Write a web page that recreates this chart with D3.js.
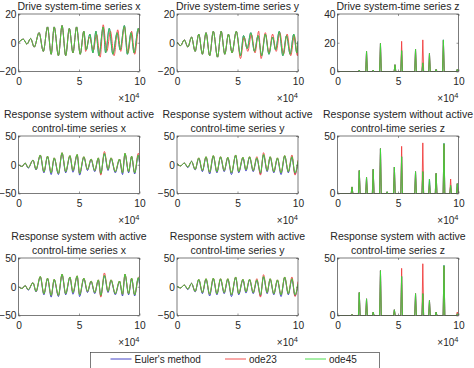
<!DOCTYPE html>
<html>
<head>
<meta charset="utf-8">
<script src="https://cdn.jsdelivr.net/npm/d3@7"></script>
<style>
  body { margin: 0; background: #fff; }
  text { font-family: "Liberation Sans", Arial, sans-serif; fill: #262626; }
</style>
</head>
<body>
<div id="chart"></div>
<script>
// time axis in units of 1e4 (extrema only)
const xTicks = [0, 5, 10];
const seriesNames = ["Euler's method", "ode23", "ode45"];

// drive x
const dxT = [0,0.4,0.7,1.0,1.3,1.7,2.05,2.4,2.7,2.95,3.3,3.6,3.9,4.2,4.5,4.8,5.1,5.4,5.6,5.9,6.15,6.4,6.65,7.0,7.2,7.5,7.8,8.15,8.4,8.75,9.0,9.3,9.55,9.9,10];
const dxG = [0,2.5,-1,3,-3,7,-6,11,-8,11,-9,12,-9,10,-7,11,-8,8,-5,6,-7,8,-9,11,-7,10,-8,7,-5,12,-8,7,-7,10,6];
const dxRTailT = [5.55,5.85,6.2,6.45,6.75,7.0,7.3,7.6,7.9,8.2,8.45,8.75,9.05,9.35,9.6,9.95,10];
const dxRTailV = [-6,4,-5,6,-10,12.5,-6,8,-9,9,-6,11,-7,8,-8,10,7];

// drive y
const dyT = [0,0.3,0.6,0.9,1.2,1.5,1.8,2.1,2.4,2.7,3.0,3.35,3.65,3.95,4.25,4.55,4.9,5.25,5.5,5.8,6.1,6.4,6.7,7.0,7.3,7.6,7.9,8.15,8.45,8.75,9.05,9.35,9.65,9.9,10];
const dyG = [0.5,-2,2,-3,4,-6,6,-8,7,-9,8,-10,8,-8,6,-7,8,-9,5,-4,7,-6,5,-9,6,-8,4,-5,8,-9,5,-8,6,-7,1];
const dyRTailT = [5.25,5.55,5.85,6.15,6.45,6.75,6.95,7.3,7.6,7.9,8.2,8.5,8.8,9.1,9.4,9.7,9.95,10];
const dyRTailV = [-11,4,-6,6,-7,8,-11,7,-7,6,-6,7,-8,6,-9,5,-9,-3];

// drive z (spike times and heights)
const dzT = [1.8,2.4,2.95,3.55,4.75,5.3,6.45,7.05,7.6,8.15,8.75,9.9];
const dzG = [1,14,1,19.5,4.7,14.5,15.5,6,12.5,1.5,22,1.5];
const dzR = [1,14,1,19.5,4.7,21,15.5,22,12.5,1.5,21.5,1.5];

// response without active control, x
const rxT = [0,0.3,0.55,0.8,1.2,1.45,1.8,2.1,2.4,2.7,2.95,3.3,3.6,3.9,4.25,4.5,4.85,5.05,5.4,5.7,6.0,6.3,6.6,6.8,7.1,7.4,7.65,8.0,8.35,8.6,8.8,9.1,9.35,9.6,9.9,10];
const rxG = [0,-3,3,-5,8,-8,17,-12,15,-14,12,-15,21,-12,16,-10,18,-15,14,-8,10,-10,12,-15,20,-8,12,-12,10,-14,20,-12,15,-14,17,5];
const rxR = [0,-3,3,-5,8,-8,17,-12,15,-14,12,-15,21,-12,16,-10,18,-15,14,-8,10,-10,12,-18,23,-8,12,-12,10,-14,20,-12,15,-14,20,8];
const rxB = [0,-3,3,-6,8,-9,16,-14,14,-17,11,-17,20,-14,15,-13,17,-18,13,-10,9,-12,11,-16,19,-10,11,-14,9,-17,19,-14,14,-16,16,4];

// response without active control, y
const ryT = [0,0.3,0.6,0.9,1.2,1.5,1.8,2.1,2.4,2.7,3.0,3.3,3.6,3.9,4.2,4.5,4.85,5.1,5.45,5.7,6.0,6.3,6.6,6.9,7.15,7.45,7.7,8.0,8.3,8.6,8.9,9.2,9.5,9.75,10];
const ryG = [2,-2,3,-4,6,-8,12,-10,14,-13,16,-12,14,-10,13,-14,17,-12,13,-9,14,-10,12,-14,18,-10,14,-12,12,-14,16,-12,14,-14,6];
const ryR = [2,-2,3,-4,6,-8,12,-10,14,-13,16,-12,14,-10,13,-14,17,-12,13,-9,14,-10,14,-18,21,-10,14,-12,12,-14,16,-12,17,-18,8];
const ryB = [2,-2,3,-5,6,-9,11,-12,13,-16,15,-14,13,-12,12,-17,16,-14,12,-11,13,-12,11,-16,17,-12,13,-14,11,-17,15,-14,13,-16,5];

// response without active control, z
const rzT = [1.2,1.8,2.4,2.95,3.55,4.1,4.7,5.3,6.45,7.05,7.6,8.15,8.8,9.35,9.9];
const rzG = [5.7,20,14,21,39,1.5,23,32,19,19,12.6,17.5,43.5,7,8.6];
const rzR = [5.7,20,14,21,39,1.5,23,41,19,44,8,17.5,43,12.6,8.6];

// response with active control, x
const axT = rxT;
const axG = [0,-3,2,-5,7,-8,18,-12,15,-15,13,-15,22,-12,17,-10,19,-14,15,-8,10,-10,12,-15,20,-8,12,-12,10,-13,22,-12,15,-14,16,6];
const axR = [0,-3,2,-5,7,-8,18,-12,15,-15,13,-15,22,-12,17,-10,19,-14,15,-8,10,-10,12,-18,24,-8,12,-12,10,-13,22,-12,15,-14,16,18];
const axB = [0,-3,2,-6,7,-9,17,-14,14,-18,12,-17,21,-14,16,-13,18,-17,14,-10,9,-12,11,-16,19,-10,11,-14,9,-16,21,-14,14,-16,15,5];

// response with active control, y
const ayT = ryT;
const ayG = [1,-2,3,-4,6,-8,13,-10,14,-13,15,-12,14,-10,14,-14,17,-12,13,-9,13,-10,12,-14,18,-10,14,-12,12,-14,17,-12,14,-14,5];
const ayR = [1,-2,3,-4,6,-8,13,-10,14,-13,15,-12,14,-10,14,-14,17,-12,13,-9,13,-10,14,-18,21,-10,14,-12,12,-14,17,-12,17,-17,9];
const ayB = [1,-2,3,-5,6,-9,12,-12,13,-16,14,-14,13,-12,13,-17,16,-14,12,-11,12,-12,11,-16,17,-12,13,-14,11,-17,16,-14,13,-16,4];

// response with active control, z
const azT = [1.2,1.8,2.4,2.95,3.55,4.7,5.3,6.45,7.05,7.6,8.15,8.8,9.9];
const azG = [1,20,14.5,3,39,5,34,19,19,13,3,43.5,1.5];
const azR = [1,20,14.5,3,39,5,41,19,45,13,3,43,3];

const pairs = (t, v) => t.map((d, i) => [d, v[i]]);
const spikes = (t, v) => {
  const hw = 0.07, pts = [[0, 0]];
  t.forEach((d, i) => { pts.push([d - hw, 0], [d, v[i]], [d + hw, 0]); });
  pts.push([10, 0]);
  return pts;
};

const dxGreen = pairs(dxT, dxG);
const dxRed = dxGreen.slice(0, 18).concat(pairs(dxRTailT, dxRTailV));
const dyGreen = pairs(dyT, dyG);
const dyRed = dyGreen.slice(0, 17).concat(pairs(dyRTailT, dyRTailV));

const panels = [
  {title: ["Drive system-time series x"], dom: [-20, 20], ticks: [-20, 0, 20], kind: "wave",
   b: dxGreen, r: dxRed, g: dxGreen},
  {title: ["Drive system-time series y"], dom: [-20, 20], ticks: [-20, 0, 20], kind: "wave",
   b: dyGreen, r: dyRed, g: dyGreen},
  {title: ["Drive system-time series z"], dom: [0, 40], ticks: [0, 20, 40], kind: "spike",
   b: spikes(dzT, dzG), r: spikes(dzT, dzR), g: spikes(dzT, dzG)},
  {title: ["Response system without active", "control-time series x"], dom: [-50, 50], ticks: [-50, 0, 50], kind: "wave",
   b: pairs(rxT, rxB), r: pairs(rxT, rxR), g: pairs(rxT, rxG)},
  {title: ["Response system without active", "control-time series y"], dom: [-50, 50], ticks: [-50, 0, 50], kind: "wave",
   b: pairs(ryT, ryB), r: pairs(ryT, ryR), g: pairs(ryT, ryG)},
  {title: ["Response system without active", "control-time series z"], dom: [0, 50], ticks: [0, 50], kind: "spike",
   b: spikes(rzT, rzG), r: spikes(rzT, rzR), g: spikes(rzT, rzG)},
  {title: ["Response system with active", "control-time series x"], dom: [-50, 50], ticks: [-50, 0, 50], kind: "wave",
   b: pairs(axT, axB), r: pairs(axT, axR), g: pairs(axT, axG)},
  {title: ["Response system with active", "control-time series y"], dom: [-50, 50], ticks: [-50, 0, 50], kind: "wave",
   b: pairs(ayT, ayB), r: pairs(ayT, ayR), g: pairs(ayT, ayG)},
  {title: ["Response system with active", "control-time series z"], dom: [0, 50], ticks: [0, 50], kind: "spike",
   b: spikes(azT, azG), r: spikes(azT, azR), g: spikes(azT, azG)}
];

const W = 474, H = 368;
const colX = [18.5, 177, 337.5], rowY = [14, 136, 258];
const pw = 121, ph = 57.5;
const colors = {b: "#3030c0", r: "#f04040", g: "#3ad83a"};
const fs = 10.5;

const svg = d3.select("#chart").append("svg").attr("width", W).attr("height", H);

panels.forEach((p, i) => {
  const left = colX[i % 3], top = rowY[Math.floor(i / 3)];
  const g = svg.append("g").attr("transform", `translate(${left},${top})`);
  const x = d3.scaleLinear().domain([0, 10]).range([0, pw]);
  const y = d3.scaleLinear().domain(p.dom).range([ph, 0]);

  const clipId = "clip" + i;
  g.append("clipPath").attr("id", clipId).append("rect").attr("width", pw).attr("height", ph);

  const line = d3.line().x(d => x(d[0])).y(d => y(d[1]))
    .curve(p.kind === "wave" ? d3.curveMonotoneX : d3.curveLinear);

  const plot = g.append("g").attr("clip-path", `url(#${clipId})`);
  ["b", "r", "g"].forEach(k => {
    plot.append("path").attr("d", line(p[k])).attr("fill", "none")
      .attr("stroke", colors[k]).attr("stroke-width", 0.9)
      .attr("stroke-linejoin", "round");
  });

  // axes, ticks inward
  g.append("g").attr("transform", `translate(0,${ph})`)
    .call(d3.axisBottom(x).tickValues(xTicks).tickSizeInner(-2).tickSizeOuter(0).tickPadding(6.5));
  g.append("g")
    .call(d3.axisLeft(y).tickValues(p.ticks).tickSizeInner(-2).tickSizeOuter(0).tickPadding(2));
  g.append("g").call(d3.axisTop(x).tickValues(xTicks).tickSizeInner(-2).tickSizeOuter(0).tickFormat(""));
  g.append("g").attr("transform", `translate(${pw},0)`)
    .call(d3.axisRight(y).tickValues(p.ticks).tickSizeInner(-2).tickSizeOuter(0).tickFormat(""));
  g.selectAll(".domain").remove();
  g.selectAll(".tick line").attr("stroke", "#555").attr("stroke-width", 0.6);
  g.selectAll(".tick text").attr("font-size", 10.2).attr("fill", "#262626")
    .attr("font-family", "Liberation Sans, Arial, sans-serif");

  g.append("rect").attr("width", pw).attr("height", ph)
    .attr("fill", "none").attr("stroke", "#444").attr("stroke-width", 0.7);

  // exponent label
  const ex = g.append("text").attr("x", pw).attr("y", ph + 30)
    .attr("text-anchor", "end").attr("font-size", 10);
  ex.append("tspan").text("\u00d710");
  ex.append("tspan").attr("dy", -4).attr("font-size", 7.5).text("4");

  // title
  const n = p.title.length;
  p.title.forEach((t, j) => {
    g.append("text").attr("x", pw / 2).attr("y", -4 - (n - 1 - j) * 14)
      .attr("text-anchor", "middle").attr("font-size", fs).text(t);
  });
});

// legend
const lg = svg.append("g").attr("transform", "translate(90.5,352.5)");
lg.append("rect").attr("width", 289).attr("height", 22).attr("fill", "#fff")
  .attr("stroke", "#444").attr("stroke-width", 0.7);
const legX = [20, 134.5, 214.5];
seriesNames.forEach((name, i) => {
  const k = ["b", "r", "g"][i];
  lg.append("line").attr("x1", legX[i]).attr("x2", legX[i] + 21)
    .attr("y1", 6.5).attr("y2", 6.5).attr("stroke", colors[k]).attr("stroke-width", 0.9);
  lg.append("text").attr("x", legX[i] + 24).attr("y", 10).attr("font-size", 10).text(name);
});
</script>
</body>
</html>
